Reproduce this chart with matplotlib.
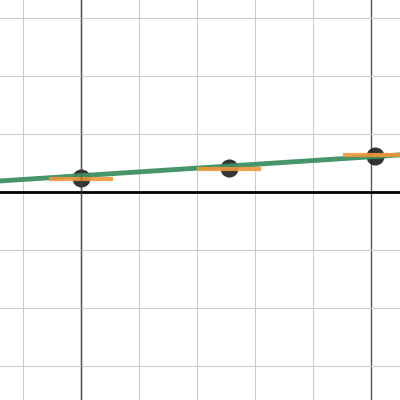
import numpy as np
import matplotlib
matplotlib.use("Agg")
from matplotlib import pyplot as plt

# data (graph units)
pt_x = [5.0, 7.55, 10.07]
pt_y = [0.24, 0.41, 0.62]
seg_half = 0.52
seg_y = [0.22, 0.40, 0.63]
line_x = [3.6, 10.5]
line_y = [0.19, 0.64]

xmin, xmax = 3.603, 10.5
ymin, ymax = -3.586, 3.31

fig = plt.figure(figsize=(4, 4), dpi=100)
ax = fig.add_axes([0, 0, 1, 1])
ax.set_xlim(xmin, xmax)
ax.set_ylim(ymin, ymax)
ax.axis('off')

for gx in np.arange(4, 11):
    major = gx % 5 == 0
    ax.axvline(gx, color='#555' if major else '#ccc', lw=1.0 if major else 0.8, zorder=0)
for gy in np.arange(-3, 4):
    if gy == 0:
        continue
    ax.axhline(gy, color='#ccc', lw=0.8, zorder=0)
ax.axhline(0, color='black', lw=2, zorder=1)

# dots sit underneath the lines
ax.scatter(pt_x, pt_y, s=170, color='#1e1e1e', alpha=0.9, lw=0, zorder=2)
ax.plot(line_x, line_y, color='#3d8f63', lw=3.5, alpha=0.95, zorder=3)
for x, y in zip(pt_x, seg_y):
    ax.plot([x - seg_half, x + seg_half], [y, y], color='#f0973a', lw=3, alpha=0.9, zorder=4)
for x in pt_x:
    if x % 5 == 0:
        ax.axvline(x, color='#555', lw=1.0, alpha=0.6, zorder=5)

fig.savefig('out.png', dpi=100)
